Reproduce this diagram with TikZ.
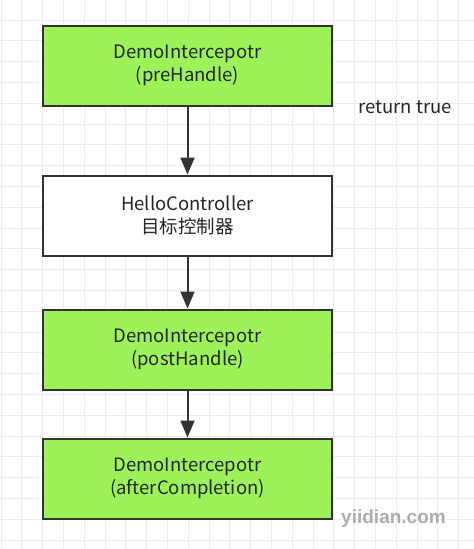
\documentclass[tikz,border=0pt]{standalone}
\usepackage{fontspec}
\usepackage{tikz}
\usetikzlibrary{arrows.meta, positioning}
\newfontfamily\cjkfont{Noto Sans CJK SC}
\newfontfamily\markfont{Liberation Sans}
\definecolor{boxgreen}{RGB}{156,242,88}
\definecolor{boxline}{RGB}{51,51,51}
\definecolor{gridgray}{RGB}{236,236,236}

\begin{document}
\begin{tikzpicture}[
        x=1pt, y=-1pt,
        node distance=50pt,
        gridline/.style={draw=gridgray, line width=1pt},
        stage/.style={rectangle, draw=boxline, fill=boxgreen, line width=2pt, minimum width=289pt, minimum height=80pt, align=center, text=black!85, font=\cjkfont\fontsize{18.5}{23}\selectfont},
        target/.style={stage, fill=white},
        arrow/.style={-{Triangle[width=14pt, length=17pt]}, line width=2pt, boxline},
        note/.style={text=black!85, font=\cjkfont\fontsize{18.5}{23}\selectfont, inner sep=0pt}
    ]
        % Background
        \fill[white] (0,0) rectangle (474,549);
        \useasboundingbox (0,0) rectangle (474,549);
        \foreach \gx in {0,...,22}
            \draw[gridline] ({1+20.8*\gx},0) -- ({1+20.8*\gx},549);
        \foreach \gy in {0,...,25}
            \draw[gridline] (0,{20+20.8*\gy}) -- (474,{20+20.8*\gy});

        % Stages
        \node[stage] (pre) at (187.5,65.5) {DemoIntercepotr\\(preHandle)};
        \node[target, below=68pt of pre] (ctrl) {HelloController\\目标控制器};
        \node[stage, below=52pt of ctrl] (post) {DemoIntercepotr\\(postHandle)};
        \node[stage, below=47pt of post] (after) {DemoIntercepotr\\(afterCompletion)};

        \draw[arrow] (pre) -- (ctrl);
        \draw[arrow] (ctrl) -- (post);
        \draw[arrow] (post) -- (after);

        % Labels
        \node[note, anchor=base west] (ret) at (358,113) {return true};
        \node[text=black!32, font=\markfont\bfseries\fontsize{19}{22}\selectfont, inner sep=0pt] (mark) at (393.5,519) {yiidian.com};

    \end{tikzpicture}
\end{document}
